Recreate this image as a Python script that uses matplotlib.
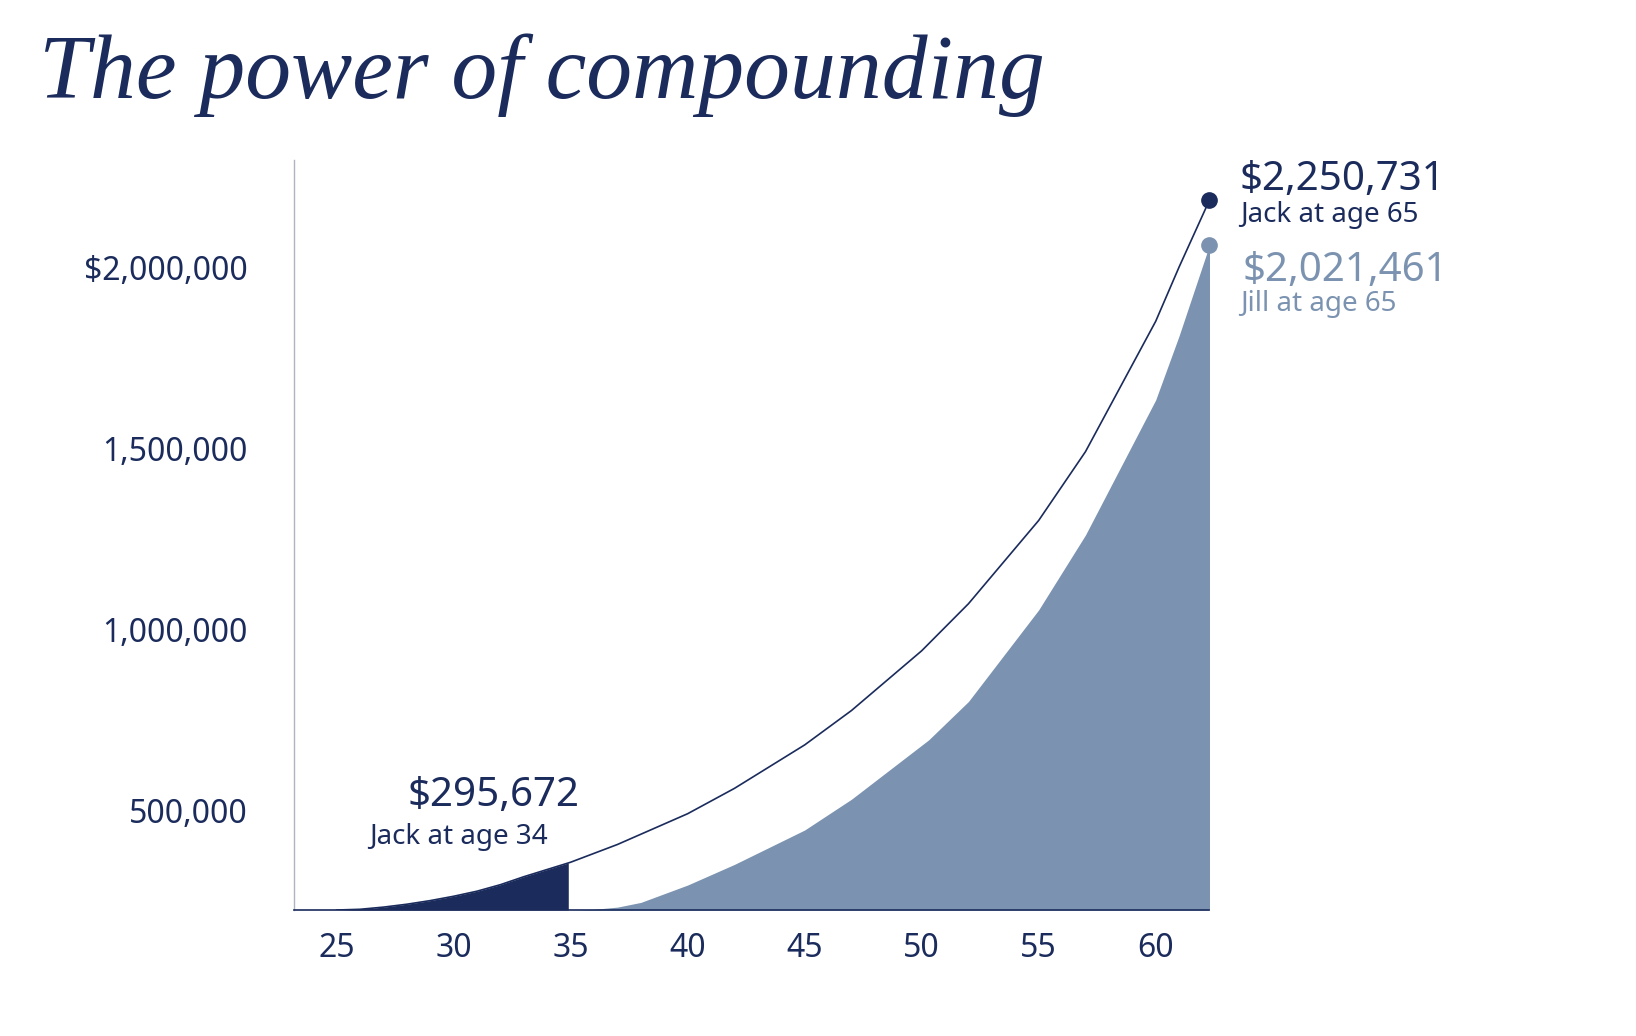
import matplotlib
matplotlib.use("Agg")
import matplotlib.pyplot as plt

jack_ages = [25, 26, 27, 28, 29, 30, 31, 32, 33, 34, 35, 37, 40, 42, 45, 47, 50, 52, 55, 57, 60, 61, 62.3]
jack_vals = [224000, 226000, 232000, 240000, 250000, 262000, 276000, 294000, 316000, 336000, 356000,
             405000, 490000, 560000, 680000, 775000, 940000, 1070000, 1300000, 1490000, 1850000,
             2000000, 2185000]
jack_fill_ages = [25, 26, 27, 28, 29, 30, 31, 32, 33, 34, 34.9]
jack_fill_vals = [224000, 226000, 232000, 240000, 250000, 262000, 276000, 294000, 316000, 336000, 354000]
jill_ages = [35.1, 36, 37, 38, 40, 42, 45, 47, 50.3, 52, 55, 57, 60, 61, 62.3]
jill_vals = [224000, 226000, 232000, 245000, 293000, 350000, 445000, 530000, 694000, 800000,
             1053000, 1260000, 1633000, 1810000, 2061000]
xticks = [25, 30, 35, 40, 45, 50, 55, 60]
yticks = [500000, 1000000, 1500000, 2000000]
ylabels = ["500,000", "1,000,000", "1,500,000", "$2,000,000"]

navy = "#1a2b5c"
steel = "#7b93b0"
ymin = 224000
ymax = 224000 + 750 / 181 * 500000

fig = plt.figure(figsize=(16.36, 10.36), dpi=100)
ax = fig.add_axes([0.180, 0.1216, 0.5593, 0.724])
ax.set_xlim(23.2, 62.3)
ax.set_ylim(ymin, ymax)

ax.fill_between(jill_ages + [62.3], jill_vals + [ymin], ymin, color=steel, lw=0)
ax.fill_between(jack_fill_ages, jack_fill_vals, ymin, color=navy, lw=0)
ax.plot(jack_ages, jack_vals, color=navy, lw=1.2)
ax.plot([62.3], [2185000], "o", color=navy, ms=11, clip_on=False, zorder=5)
ax.plot([62.3], [2061000], "o", color=steel, ms=11, clip_on=False, zorder=5)

for s in ["top", "right"]:
    ax.spines[s].set_visible(False)
ax.spines["left"].set_color("#b0b4c0")
ax.spines["left"].set_linewidth(1)
ax.spines["bottom"].set_color(navy)
ax.spines["bottom"].set_linewidth(1.2)
ax.set_xticks(xticks)
ax.set_xticklabels([str(t) for t in xticks])
ax.set_yticks(yticks)
ax.set_yticklabels(ylabels)
ax.tick_params(length=0, labelsize=23, labelcolor=navy, pad=16)
ax.tick_params(axis="y", pad=34)
for lab in ax.get_xticklabels() + ax.get_yticklabels():
    lab.set_fontweight("medium")
    lab.set_family("Noto Sans")

fig.text(0.024, 0.905, "The power of compounding", fontsize=66, style="italic",
         family="Liberation Serif", color=navy)

kw = dict(family="Noto Sans", clip_on=False)
ax.text(31.7, 540000, "$295,672", fontsize=29, color=navy, ha="center", va="center", **kw)
ax.text(30.2, 426000, "Jack at age 34", fontsize=20, color=navy, ha="center", va="center", **kw)
ax.text(63.6, 2240000, "$2,250,731", fontsize=29, color=navy, ha="left", va="center", **kw)
ax.text(63.6, 2144000, "Jack at age 65", fontsize=20, color=navy, ha="left", va="center", **kw)
ax.text(63.7, 1990000, "$2,021,461", fontsize=29, color=steel, ha="left", va="center", **kw)
ax.text(63.6, 1898000, "Jill at age 65", fontsize=20, color=steel, ha="left", va="center", **kw)

fig.savefig("out.png", dpi=100)
